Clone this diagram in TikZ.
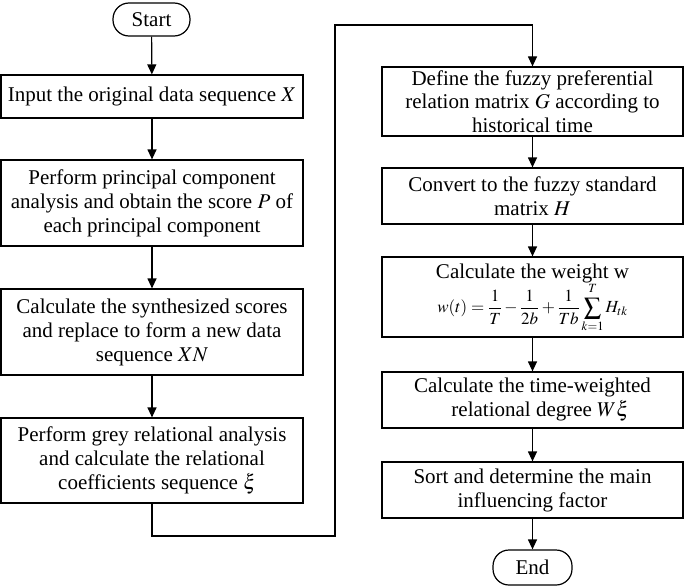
\documentclass[tikz,border=0pt]{standalone}
\usepackage{mathptmx}
\usepackage{fontspec}
\setmainfont{Liberation Serif}
\usetikzlibrary{arrows.meta}
\begin{document}
\begin{tikzpicture}[x=1pt,y=-1pt,
  every node/.style={font=\fontsize{21}{24}\selectfont},
  box/.style={draw,line width=1.2pt,align=center,inner sep=1pt,minimum width=302pt},
  term/.style={draw,line width=1.2pt,rounded corners=16pt,inner sep=1pt},
  arr/.style={line width=1.2pt,-{Triangle[length=10pt,width=9pt]}}]
\useasboundingbox (0,0) rectangle (685,586);
\node[term,minimum width=77pt,minimum height=33pt] (start) at (151.5,19.5) {Start};
\node[box,minimum height=43pt] (b1) at (152,96.5) {Input the original data sequence $X$};
\node[box,minimum height=86pt] (b2) at (152,203) {Perform principal component\\analysis and obtain the score $P$ of\\each principal component};
\node[box,minimum height=86pt] (b3) at (152,332) {Calculate the synthesized scores\\and replace to form a new data\\sequence $XN$};
\node[box,minimum height=85pt] (b4) at (152,460.5) {Perform grey relational analysis\\and calculate the relational\\\ \ coefficients sequence $\xi$};
\node[box,minimum width=301pt,minimum height=69pt,font=\fontsize{21}{23.5}\selectfont] (b5) at (532.5,101.5) {Define the fuzzy preferential\\relation matrix $G$ according to\\historical time};
\node[box,minimum width=301pt,minimum height=56pt] (b6) at (532.5,196) {Convert to the fuzzy standard\\matrix $H$};
\node[box,minimum width=301pt,minimum height=80pt] (b7) at (532.5,297) {\begin{tabular}{@{}c@{}}Calculate the weight w\\[-3pt]
  {\fontsize{17}{17}\selectfont$\displaystyle w(t)=\frac{1}{T}-\frac{1}{2b}+\frac{1}{Tb}\sum_{k=1}^{\raisebox{2pt}{$\scriptstyle T$}}H_{tk}$}\end{tabular}};
\node[box,minimum width=301pt,minimum height=56pt] (b8) at (532.5,400) {Calculate the time-weighted\\\ \ \ relational degree $W\xi$};
\node[box,minimum width=301pt,minimum height=56pt] (b9) at (532.5,490) {Sort and determine the main\\influencing factor};
\node[term,minimum width=79pt,minimum height=35pt] (end) at (532.5,567.5) {End};
\coordinate (c1) at (152,536);
\coordinate (c2) at (335,536);
\coordinate (c3) at (335,25);
\coordinate (c4) at (532.5,25);
\draw[arr] (start) -- (b1);
\draw[arr] (b1) -- (b2);
\draw[arr] (b2) -- (b3);
\draw[arr] (b3) -- (b4);
\draw[arr] (b4.south) -- (c1) -- (c2) -- (c3) -- (c4) -- (b5.north);
\draw[arr] (b5) -- (b6);
\draw[arr] (b6) -- (b7);
\draw[arr] (b7) -- (b8);
\draw[arr] (b8) -- (b9);
\draw[arr] (b9) -- (end);
\end{tikzpicture}
\end{document}
